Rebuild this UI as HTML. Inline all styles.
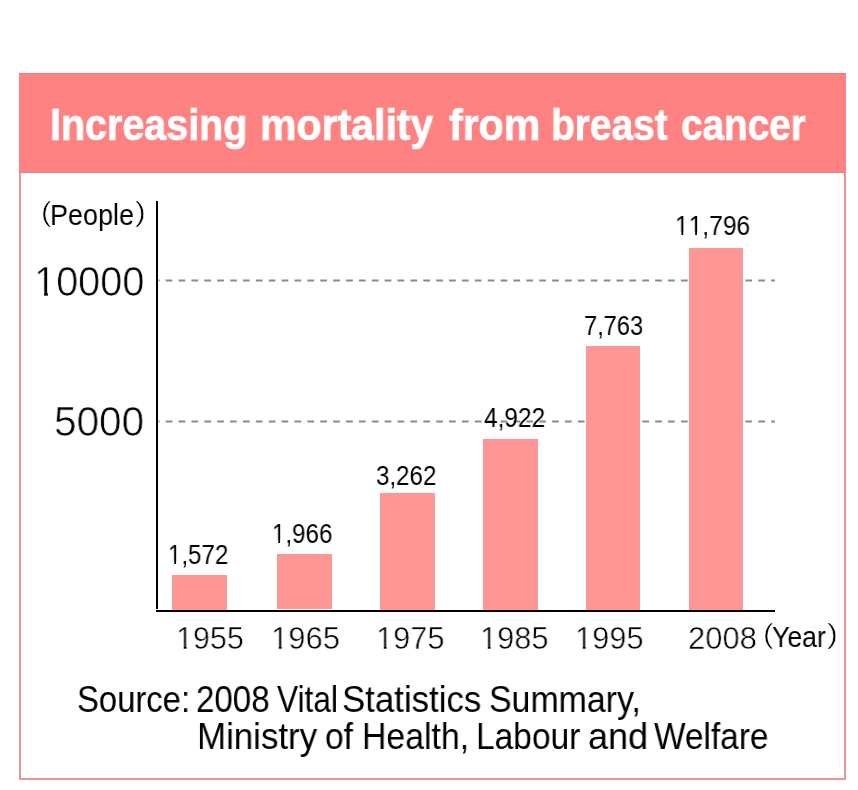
<!DOCTYPE html>
<html lang="en">
<head>
<meta charset="utf-8">
<title>Increasing mortality from breast cancer</title>
<style>
html,body{margin:0;padding:0;background:#fff;}
body{width:858px;height:790px;position:relative;overflow:hidden;font-family:"Liberation Sans",sans-serif;}
.frame{position:absolute;left:19px;top:73px;width:823px;height:705px;border:2px solid #E4979A;border-top:none;}
.hdr{position:absolute;left:19px;top:73px;width:827px;height:97.6px;background:#FF8282;border-top:1px solid #E27C7C;border-bottom:1px solid #E88080;}
.t{position:absolute;white-space:nowrap;line-height:1;transform-origin:0 0;margin:0;padding:0;font-weight:normal;color:#000;will-change:transform;}
.b{font-weight:bold;color:#fff;-webkit-text-stroke:0.7px #fff;}
.o{position:relative;display:inline-block;}
.o::before,.o::after{content:"";position:absolute;top:0.725em;height:0.15em;background:#fff;}
.o::before{left:0;width:0.247em;}
.o::after{left:0.343em;width:0.2em;}
.bar{position:absolute;background:#FF9696;}
.yaxis{position:absolute;left:156.1px;top:201px;width:2.1px;height:408.4px;background:#000;}
.xaxis{position:absolute;left:155.8px;top:609.9px;width:619.6px;height:2px;background:#000;}
.gl{position:absolute;left:0;top:0;}
</style>
</head>
<body>
<div class="frame"></div>
<div class="hdr"></div>
<svg class="gl" width="858" height="790" viewBox="0 0 858 790"><g stroke="#8a8a8a" stroke-width="2" stroke-dasharray="6.7 6.182" stroke-dashoffset="5.4" fill="none"><line x1="158.2" y1="280.5" x2="774.9" y2="280.5"/><line x1="158.2" y1="421.6" x2="774.9" y2="421.6"/></g></svg>
<div class="bar" style="left:172.0px;top:574.6px;width:55.2px;height:35.6px"></div>
<div class="bar" style="left:277.2px;top:554.0px;width:54.6px;height:54.7px"></div>
<div class="bar" style="left:380.4px;top:493.4px;width:54.3px;height:116.8px"></div>
<div class="bar" style="left:483.3px;top:439.3px;width:54.3px;height:170.9px"></div>
<div class="bar" style="left:586.1px;top:346.0px;width:54.2px;height:264.2px"></div>
<div class="bar" style="left:688.6px;top:247.7px;width:54.5px;height:362.5px"></div>
<div class="yaxis"></div>
<div class="xaxis"></div>
<div id="t1" class="t b" style="left:49.51px;top:102.04px;font-size:44.80px;transform:scaleX(0.8806);">Increasing</div>
<div id="t2" class="t b" style="left:260.00px;top:102.04px;font-size:44.80px;transform:scaleX(0.9164);">mortality</div>
<div id="t3" class="t b" style="left:448.96px;top:102.04px;font-size:44.80px;transform:scaleX(0.9171);">from</div>
<div id="t4" class="t b" style="left:550.72px;top:102.04px;font-size:44.80px;transform:scaleX(0.8685);">breast</div>
<div id="t5" class="t b" style="left:681.21px;top:102.04px;font-size:44.80px;transform:scaleX(0.8642);">cancer</div>
<div id="pl" class="t" style="left:40.71px;top:199.49px;font-size:27.00px;transform:scaleX(1.1463);-webkit-text-stroke:0.50px #fff;">(</div>
<div id="people" class="t" style="left:50.42px;top:200.53px;font-size:28.60px;transform:scaleX(0.9429);">People</div>
<div id="pr" class="t" style="left:134.82px;top:199.49px;font-size:27.00px;transform:scaleX(1.2066);-webkit-text-stroke:0.50px #fff;">)</div>
<div id="y10000" class="t" style="left:33.58px;top:260.27px;font-size:43.00px;transform:scaleX(0.9228);-webkit-text-stroke:0.70px #fff;"><span class="o">1</span>0000</div>
<div id="y5000" class="t" style="left:53.58px;top:400.27px;font-size:43.00px;transform:scaleX(0.9420);-webkit-text-stroke:0.70px #fff;">5000</div>
<div id="v1" class="t" style="left:168.48px;top:542.25px;font-size:26.80px;transform:scaleX(0.8988);"><span class="o">1</span>,572</div>
<div id="v2" class="t" style="left:272.02px;top:521.45px;font-size:26.80px;transform:scaleX(0.9003);"><span class="o">1</span>,966</div>
<div id="v3" class="t" style="left:375.50px;top:463.25px;font-size:26.80px;transform:scaleX(0.8996);">3,262</div>
<div id="v4" class="t" style="left:483.67px;top:404.95px;font-size:26.80px;transform:scaleX(0.9117);">4,922</div>
<div id="v5" class="t" style="left:584.48px;top:312.95px;font-size:26.80px;transform:scaleX(0.8813);">7,763</div>
<div id="v6" class="t" style="left:675.13px;top:212.95px;font-size:26.80px;transform:scaleX(0.9170);"><span class="o">1</span><span class="o">1</span>,796</div>
<div id="x1" class="t" style="left:176.17px;top:622.84px;font-size:31.90px;transform:scaleX(0.9555);-webkit-text-stroke:0.50px #fff;"><span class="o">1</span>955</div>
<div id="x2" class="t" style="left:270.77px;top:622.84px;font-size:31.90px;transform:scaleX(0.9722);-webkit-text-stroke:0.50px #fff;"><span class="o">1</span>965</div>
<div id="x3" class="t" style="left:375.83px;top:622.84px;font-size:31.90px;transform:scaleX(0.9651);-webkit-text-stroke:0.50px #fff;"><span class="o">1</span>975</div>
<div id="x4" class="t" style="left:479.79px;top:622.84px;font-size:31.90px;transform:scaleX(0.9651);-webkit-text-stroke:0.50px #fff;"><span class="o">1</span>985</div>
<div id="x5" class="t" style="left:575.08px;top:622.84px;font-size:31.90px;transform:scaleX(0.9658);-webkit-text-stroke:0.50px #fff;"><span class="o">1</span>995</div>
<div id="x6" class="t" style="left:688.03px;top:622.84px;font-size:31.90px;transform:scaleX(0.9704);-webkit-text-stroke:0.50px #fff;">2008</div>
<div id="yl" class="t" style="left:762.89px;top:621.48px;font-size:27.00px;transform:scaleX(1.1628);-webkit-text-stroke:0.50px #fff;">(</div>
<div id="year" class="t" style="left:772.45px;top:622.53px;font-size:28.60px;transform:scaleX(0.9315);">Year</div>
<div id="yr" class="t" style="left:826.69px;top:621.48px;font-size:27.00px;transform:scaleX(1.2205);-webkit-text-stroke:0.50px #fff;">)</div>
<div id="s1a" class="t" style="left:77.10px;top:682.16px;font-size:36.50px;transform:scaleX(0.8988);">Source:</div>
<div id="s1b" class="t" style="left:195.68px;top:682.16px;font-size:36.50px;transform:scaleX(0.9060);">2008</div>
<div id="s1c" class="t" style="left:277.17px;top:682.16px;font-size:36.50px;transform:scaleX(0.8659);">Vital</div>
<div id="s1d" class="t" style="left:342.28px;top:682.16px;font-size:36.50px;transform:scaleX(0.9537);">Statistics</div>
<div id="s1e" class="t" style="left:489.38px;top:682.16px;font-size:36.50px;transform:scaleX(0.9278);">Summary,</div>
<div id="s2a" class="t" style="left:196.50px;top:718.96px;font-size:36.50px;transform:scaleX(0.9552);">Ministry</div>
<div id="s2b" class="t" style="left:325.03px;top:718.96px;font-size:36.50px;transform:scaleX(0.9193);">of</div>
<div id="s2c" class="t" style="left:361.71px;top:718.96px;font-size:36.50px;transform:scaleX(0.9257);">Health,</div>
<div id="s2d" class="t" style="left:476.28px;top:718.96px;font-size:36.50px;transform:scaleX(0.9175);">Labour</div>
<div id="s2e" class="t" style="left:587.56px;top:718.96px;font-size:36.50px;transform:scaleX(0.9882);">and</div>
<div id="s2f" class="t" style="left:654.37px;top:718.96px;font-size:36.50px;transform:scaleX(0.9152);">Welfare</div>
</body>
</html>
